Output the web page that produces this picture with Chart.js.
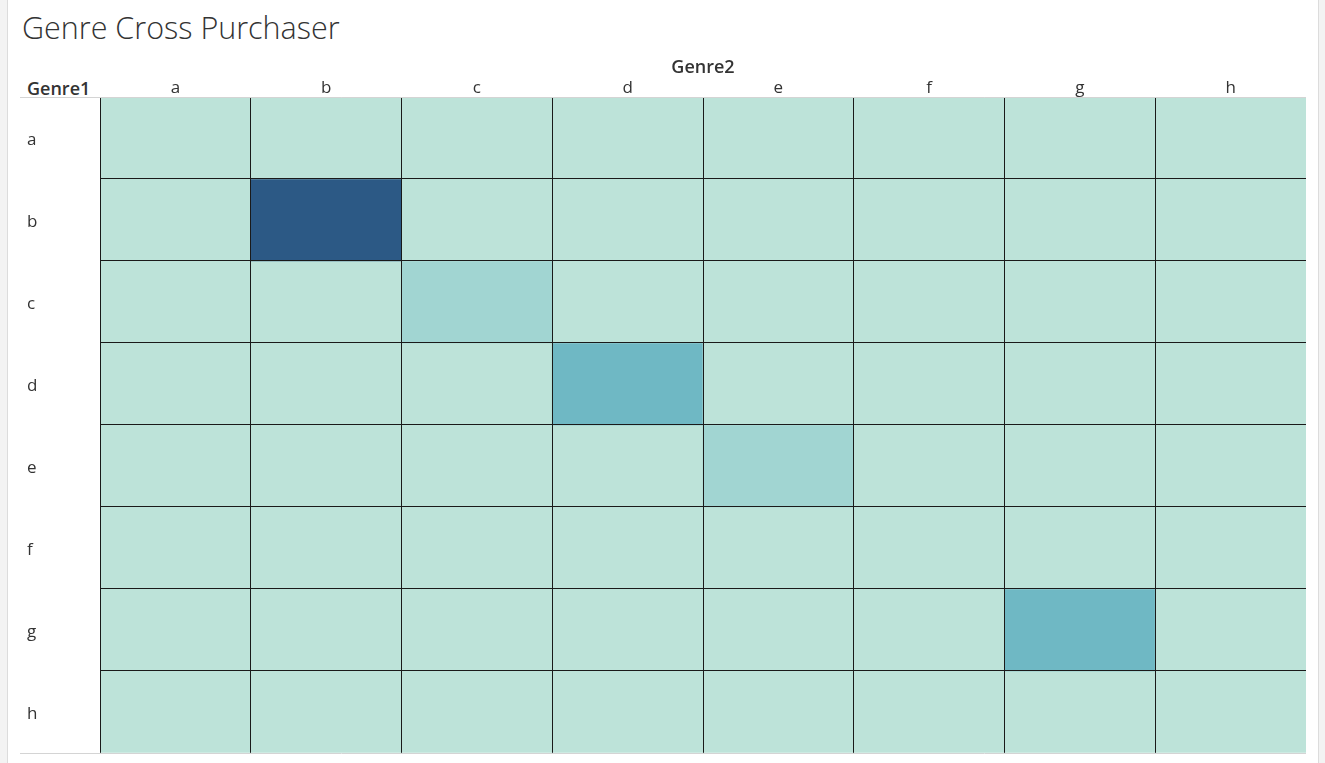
<!DOCTYPE html>
<html>
<head>
<meta charset="utf-8">
<script src="https://cdn.jsdelivr.net/npm/chart.js@4.4.1/dist/chart.umd.min.js"></script>
<style>
  html, body { margin: 0; padding: 0; background: #fff; }
  body { width: 1325px; height: 763px; position: relative; overflow: hidden; font-family: "Open Sans", sans-serif; color: #333; }
  .stripL { position: absolute; left: 0; top: 0; width: 7px; height: 763px; background: #f3f3f3; border-right: 1px solid #dcdcdc; }
  .stripR { position: absolute; left: 1318px; top: 0; width: 7px; height: 763px; background: #f3f3f3; border-left: 1px solid #dcdcdc; }
  .titulo { position: absolute; left: 22px; top: 12px; font-size: 30.5px; line-height: 30px; font-weight: 300; color: #333; white-space: nowrap; }
  .genre1 { position: absolute; left: 27px; top: 79px; font-size: 18px; line-height: 18px; font-weight: 600; color: #333; }
  .wrap { position: absolute; left: 0; top: 0; width: 1325px; height: 763px; }
</style>
</head>
<body>
<div class="stripL"></div>
<div class="stripR"></div>
<div class="titulo">Genre Cross Purchaser</div>
<div class="genre1">Genre1</div>
<div class="wrap"><canvas id="grafico"></canvas></div>
<script>
const generosColuna = ['a', 'b', 'c', 'd', 'e', 'f', 'g', 'h'];
const generosLinha = ['a', 'b', 'c', 'd', 'e', 'f', 'g', 'h'];

// compradores em comum (Genre1 x Genre2), valores estimados pela cor
const linhaA = [0, 0, 0, 0, 0, 0, 0, 0];
const linhaB = [0, 80, 0, 0, 0, 0, 0, 0];
const linhaC = [0, 0, 12, 0, 0, 0, 0, 0];
const linhaD = [0, 0, 0, 30, 0, 0, 0, 0];
const linhaE = [0, 0, 0, 0, 12, 0, 0, 0];
const linhaF = [0, 0, 0, 0, 0, 0, 0, 0];
const linhaG = [0, 0, 0, 0, 0, 0, 30, 0];
const linhaH = [0, 0, 0, 0, 0, 0, 0, 0];
const matriz = [linhaA, linhaB, linhaC, linhaD, linhaE, linhaF, linhaG, linhaH];

const paleta = [
  [0, [189, 227, 217]],
  [0.15, [161, 213, 210]],
  [0.375, [111, 184, 196]],
  [1, [44, 89, 133]]
];

function corPara(valor, max) {
  const t = Math.max(0, Math.min(1, valor / max));
  for (let i = 1; i < paleta.length; i++) {
    const [p1, c1] = paleta[i];
    const [p0, c0] = paleta[i - 1];
    if (t <= p1) {
      const f = (t - p0) / (p1 - p0);
      const c = c0.map((v, k) => Math.round(v + (c1[k] - v) * f));
      return `rgb(${c[0]},${c[1]},${c[2]})`;
    }
  }
  return 'rgb(44,89,133)';
}

const maximo = Math.max(...matriz.flat());

const datasets = generosLinha.map((g, i) => ({
  label: g,
  data: generosColuna.map(() => [i, i + 1]),
  backgroundColor: matriz[i].map(v => corPara(v, maximo)),
  borderWidth: 0,
  barPercentage: 1,
  categoryPercentage: 1
}));

const linhasCinza = {
  id: 'linhasCinza',
  afterDraw(chart) {
    const { ctx, chartArea } = chart;
    const y = chart.scales.y;
    ctx.save();
    ctx.strokeStyle = '#d4d4d4';
    ctx.lineWidth = 1;
    [0, generosLinha.length].forEach(v => {
      const py = Math.round(y.getPixelForValue(v)) + 0.5;
      ctx.beginPath();
      ctx.moveTo(chartArea.left - 80, py);
      ctx.lineTo(chartArea.right, py);
      ctx.stroke();
    });
    ctx.restore();
  }
};

new Chart(document.getElementById('grafico'), {
  type: 'bar',
  data: { labels: generosColuna, datasets },
  options: {
    responsive: true,
    maintainAspectRatio: false,
    animation: false,
    layout: { padding: { left: 27, right: 19, top: 55, bottom: 9 } },
    plugins: { legend: { display: false }, tooltip: { enabled: false } },
    scales: {
      x: {
        position: 'top',
        stacked: true,
        offset: true,
        z: 1,
        border: { display: false },
        grid: {
          offset: true,
          drawTicks: false,
          lineWidth: 1,
          z: 1,
          color: c => c.type === 'tick' ? '#1a1a1a' : 'rgba(0,0,0,0)'
        },
        ticks: { color: '#333', font: { family: 'Open Sans', size: 17 }, padding: -1, maxRotation: 0 },
        title: {
          display: true,
          text: 'Genre2',
          color: '#333',
          font: { family: 'Open Sans', size: 18, weight: '600' },
          padding: { top: 2, bottom: 0 }
        },
        afterFit: s => { s.height = 42; }
      },
      y: {
        type: 'linear',
        reverse: true,
        min: 0,
        max: generosLinha.length,
        z: 1,
        border: { display: false },
        afterBuildTicks: s => {
          const t = [];
          for (let v = 0; v <= generosLinha.length; v += 0.5) {
            t.push({ value: Number.isInteger(v) ? v : v + 0.025 });
          }
          s.ticks = t;
        },
        grid: {
          drawTicks: false,
          lineWidth: 1,
          z: 1,
          color: c => {
            const v = c.tick ? c.tick.value : -1;
            return (Number.isInteger(v) && v > 0 && v < generosLinha.length) ? '#1a1a1a' : 'rgba(0,0,0,0)';
          }
        },
        ticks: {
          autoSkip: false,
          crossAlign: 'far',
          padding: 0,
          color: '#333',
          font: { family: 'Open Sans', size: 17 },
          callback: v => Number.isInteger(v) ? '' : generosLinha[Math.floor(v)]
        },
        afterFit: s => { s.width = 73; }
      }
    }
  },
  plugins: [linhasCinza]
});
</script>
</body>
</html>
